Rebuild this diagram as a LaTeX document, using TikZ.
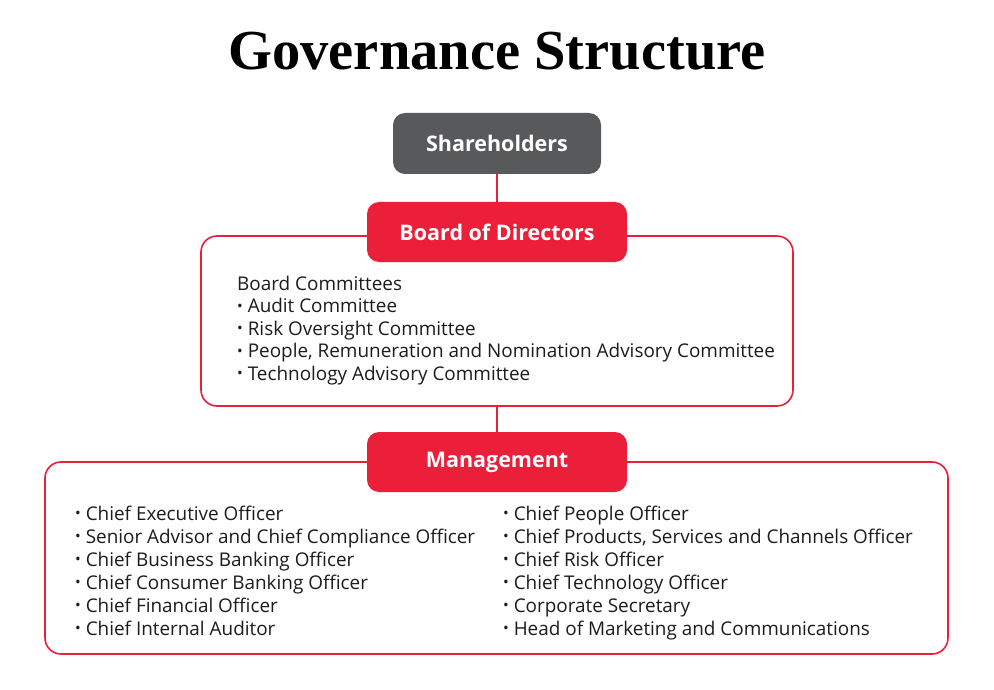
\documentclass[tikz,border=0pt]{standalone}
\usepackage{fontspec}
\setmainfont{Open Sans}
\newfontfamily\titlefont{Liberation Serif}
\usetikzlibrary{positioning}
\definecolor{brandred}{HTML}{EC1F3A}
\definecolor{brandgray}{HTML}{58595B}
\definecolor{inkblack}{HTML}{1E1B1C}
\newcommand{\dotmark}{\raisebox{0.12ex}{\scalebox{0.8}{•}}}

\begin{document}
\begin{tikzpicture}[x=1pt,y=-1pt]
  % Styles for headers, panels and list lines
  \tikzset{
    head/.style  = {rounded corners=12pt, minimum width=260pt, minimum height=60pt, fill=brandred, text=white, inner sep=0pt, font=\fontsize{21.5}{24}\selectfont\bfseries},
    panel/.style = {draw=brandred, line width=1.6pt, rounded corners=16pt, fill=white, inner sep=0pt},
    item/.style  = {anchor=base west, inner sep=0pt, text=inkblack, font=\fontsize{18.9}{22}\selectfont},
    link/.style  = {draw=brandred, line width=1.5pt}
  }
  \useasboundingbox (0,0) rectangle (994,690);

  % ========= Title =========
  \node[anchor=base, inner sep=0pt, font=\titlefont\bfseries\fontsize{56.5}{60}\selectfont] (title) at (497,70) {Governance Structure};

  % ========= Shareholders =========
  \node[head, fill=brandgray, minimum width=208pt, minimum height=61pt] (share) at (497,143.5) {Shareholders};

  % ========= Board of Directors =========
  \node[panel, minimum width=592pt, minimum height=170pt] (boardpanel) at (497,321) {};
  \node[head] (board) at (497,232) {Board of Directors};
  \foreach \t [count=\i] in {Board Committees, \dotmark{} Audit Committee, \dotmark{} Risk Oversight Committee,
      {\dotmark{} People, Remuneration and Nomination Advisory Committee}, \dotmark{} Technology Advisory Committee}
    { \node[item] (bc\i) at ({237},{290+22.5*(\i-1)}) {\t}; }

  % ========= Management =========
  \node[panel, minimum width=903pt, minimum height=192pt] (mgmtpanel) at (496.5,558) {};
  \node[head] (mgmt) at (497,462) {Management};
  % left column
  \foreach \t [count=\i] in {Chief Executive Officer, Senior Advisor and Chief Compliance Officer,
      Chief Business Banking Officer, Chief Consumer Banking Officer, Chief Financial Officer, Chief Internal Auditor}
    { \node[item] (ml\i) at ({75},{520+23*(\i-1)}) {\dotmark{} \t}; }
  % right column
  \foreach \t [count=\i] in {Chief People Officer, {Chief Products, Services and Channels Officer},
      Chief Risk Officer, Chief Technology Officer, Corporate Secretary, Head of Marketing and Communications}
    { \node[item] (mr\i) at ({503},{520+23*(\i-1)}) {\dotmark{} \t}; }

  % ========= Connectors =========
  \draw[link] (share.south) -- (board.north);
  \draw[link] (boardpanel.south) -- (mgmt.north);
\end{tikzpicture}
\end{document}
